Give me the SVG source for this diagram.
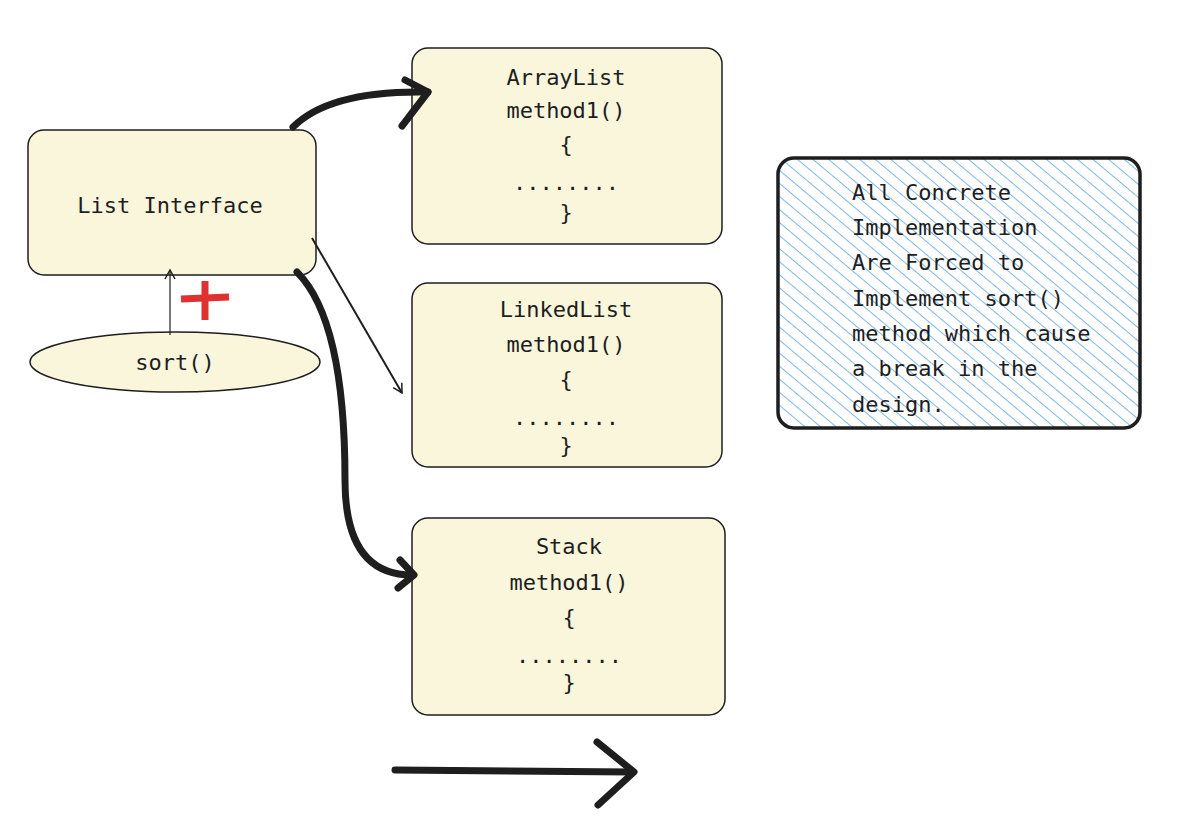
<svg xmlns="http://www.w3.org/2000/svg" width="1200" height="823" viewBox="0 0 1200 823">
<defs>
<pattern id="hatch" patternUnits="userSpaceOnUse" width="10" height="10" patternTransform="rotate(-50)">
<rect width="10" height="10" fill="#ffffff"/>
<line x1="0" y1="0" x2="0" y2="10" stroke="#7fb8ea" stroke-width="2"/>
</pattern>
<marker id="ah" markerWidth="12" markerHeight="12" refX="10" refY="6" orient="auto" markerUnits="userSpaceOnUse">
<path d="M1,1 L10,6 L1,11" fill="none" stroke="#1e1e1e" stroke-width="1.5"/>
</marker>
</defs>
<style>
.box{fill:#f9f6dc;stroke:#1e1e1e;stroke-width:1.5}
.t{font-family:"DejaVu Sans Mono","Liberation Mono",monospace;font-size:22px;fill:#1e1e1e}
.c{text-anchor:middle}
.thick{fill:none;stroke:#1e1e1e;stroke-width:7;stroke-linecap:round;stroke-linejoin:round}
</style>
<rect width="1200" height="823" fill="#ffffff"/>
<g id="list-interface">
<rect class="box" x="28" y="130" width="288" height="145" rx="16"/>
<text class="t c" x="170" y="213">List Interface</text>
</g>
<g id="sort">
<ellipse class="box" cx="175" cy="362" rx="145" ry="30"/>
<text class="t c" x="175" y="370">sort()</text>
</g>
<g id="arraylist">
<rect class="box" x="412" y="48" width="310" height="196" rx="16"/>
<text class="t c" x="566" y="85">ArrayList</text>
<text class="t c" x="566" y="118">method1()</text>
<text class="t c" x="566" y="152">{</text>
<text class="t c" x="566" y="190">........</text>
<text class="t c" x="566" y="220">}</text>
</g>
<g id="linkedlist">
<rect class="box" x="412" y="283" width="310" height="184" rx="16"/>
<text class="t c" x="566" y="317">LinkedList</text>
<text class="t c" x="566" y="352">method1()</text>
<text class="t c" x="566" y="387">{</text>
<text class="t c" x="566" y="425">........</text>
<text class="t c" x="566" y="453">}</text>
</g>
<g id="stack">
<rect class="box" x="412" y="518" width="313" height="197" rx="16"/>
<text class="t c" x="569" y="554">Stack</text>
<text class="t c" x="569" y="590">method1()</text>
<text class="t c" x="569" y="625">{</text>
<text class="t c" x="569" y="663">........</text>
<text class="t c" x="569" y="690">}</text>
</g>
<g id="note">
<rect x="778" y="158" width="362" height="270" rx="16" fill="url(#hatch)" stroke="#1e1e1e" stroke-width="3.5"/>
<text class="t" x="852" y="200">All Concrete</text>
<text class="t" x="852" y="235">Implementation</text>
<text class="t" x="852" y="270">Are Forced to</text>
<text class="t" x="852" y="306">Implement sort()</text>
<text class="t" x="852" y="341">method which cause</text>
<text class="t" x="852" y="376">a break in the</text>
<text class="t" x="852" y="412">design.</text>
</g>
<g id="connectors">
<path class="thick" d="M293,127 Q330,90 428,92"/>
<path class="thick" d="M405,80 L428,92 L402,126"/>
<line x1="312" y1="238" x2="402" y2="393" stroke="#1e1e1e" stroke-width="2" marker-end="url(#ah)"/>
<path class="thick" d="M297,272 Q345,320 345,480 Q345,575 412,575"/>
<path class="thick" d="M400,560 L414,575 L398,588"/>
<line x1="170" y1="335" x2="170" y2="270" stroke="#1e1e1e" stroke-width="1.2" marker-end="url(#ah)"/>
<path class="thick" d="M395,770 L632,772"/>
<path class="thick" d="M597,742 L634,772 L598,805"/>
</g>
<g id="plus">
<line x1="205" y1="281" x2="205" y2="320" stroke="#e03131" stroke-width="7"/>
<line x1="181" y1="299" x2="229" y2="297" stroke="#e03131" stroke-width="7"/>
</g>
</svg>
